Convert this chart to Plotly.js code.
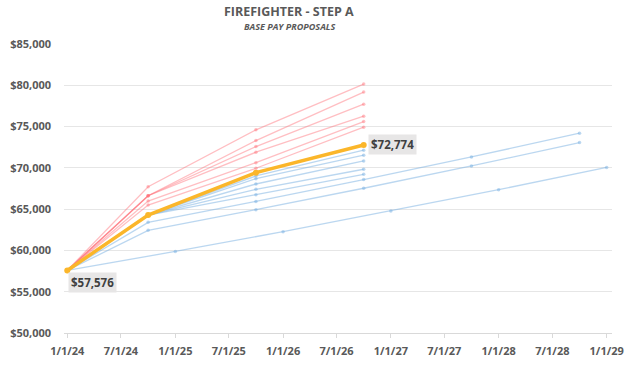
<!DOCTYPE html>
<html>
<head>
<meta charset="utf-8">
<script src="https://cdn.plot.ly/plotly-3.0.1.min.js"></script>
<style>html,body{margin:0;padding:0;background:#fff;}#chart{width:640px;height:374px;}</style>
</head>
<body>
<div id="chart"></div>
<script>
// ---- data ----
const shortDates = ['2024-01-01', '2024-10-01', '2025-10-01', '2026-10-01'];
const longDates = ['2024-01-01', '2024-10-01', '2025-10-01', '2026-10-01', '2027-10-01', '2028-10-01'];
const annualDates = ['2024-01-01', '2025-01-01', '2026-01-01', '2027-01-01', '2028-01-01', '2029-01-01'];

const redSeries = [
  [57576, 67719, 74600, 80146],
  [57576, 66626, 73301, 79175],
  [57576, 66626, 72573, 77718],
  [57576, 66626, 71893, 76262],
  [57576, 65983, 70631, 75607],
  [57576, 65498, 69952, 74927]
];
const blueShortSeries = [
  [57576, 64284, 69017, 72136],
  [57576, 64284, 68689, 71529],
  [57576, 64284, 68046, 70838],
  [57576, 64284, 67403, 69830],
  [57576, 64284, 66748, 69223]
];
const blueLongSeries = [
  [57576, 63400, 65940, 68580, 71320, 74200],
  [57576, 62430, 64930, 67530, 70230, 73060]
];
const blueAnnual = [57576, 59880, 62270, 64770, 67360, 70050];
const orangeSeries = [57576, 64284, 69418, 72774];

const labelStart = '$57,576';
const labelEnd = '$72,774';

// ---- styles ----
const redColor = 'rgba(255,110,120,0.45)';
const blueColor = 'rgba(120,175,225,0.5)';
const orangeColor = '#fbb62a';

const traces = [];
function addLine(x, y, color, width, msize) {
  traces.push({
    type: 'scatter', mode: 'lines+markers', x: x, y: y,
    line: {color: color, width: width},
    marker: {color: color, size: msize},
    hoverinfo: 'skip', showlegend: false
  });
}
blueLongSeries.forEach(s => addLine(longDates, s, blueColor, 1.3, 3.5));
addLine(annualDates, blueAnnual, blueColor, 1.3, 3.5);
blueShortSeries.forEach(s => addLine(shortDates, s, blueColor, 1.3, 3.5));
redSeries.forEach(s => addLine(shortDates, s, redColor, 1.3, 3.5));
addLine(shortDates, orangeSeries, orangeColor, 3.5, 6);

const fontFam = '"Open Sans", Arial, sans-serif';
const layout = {
  width: 640, height: 374,
  margin: {l: 64, r: 28, t: 44, b: 41},
  paper_bgcolor: '#fff', plot_bgcolor: '#fff',
  showlegend: false,
  font: {family: fontFam, color: '#595959'},
  xaxis: {
    type: 'date',
    range: ['2023-12-21', '2029-01-19'],
    tick0: '2024-01-01', dtick: 'M6',
    tickformat: '%-m/%-d/%y',
    showgrid: false, zeroline: false,
    showline: true, linecolor: '#d9d9d9', linewidth: 1,
    ticks: 'outside', ticklen: 4, tickcolor: '#d9d9d9',
    ticklabelstandoff: 4,
    tickfont: {family: fontFam, size: 11, color: '#595959', weight: 700}
  },
  yaxis: {
    range: [50000, 85000], dtick: 5000,
    tickprefix: '$', tickformat: ',d',
    showgrid: true, gridcolor: '#e6e6e6', gridwidth: 1,
    zeroline: false, showline: false,
    ticks: '', ticklabelstandoff: 12,
    tickfont: {family: fontFam, size: 11, color: '#595959', weight: 700}
  },
  annotations: [
    {xref: 'paper', yref: 'paper', x: 0.4106, y: 1, yshift: 32.5, xanchor: 'center', yanchor: 'middle',
     text: 'FIREFIGHTER - STEP A', showarrow: false,
     font: {family: fontFam, size: 12.5, color: '#595959', weight: 700}},
    {xref: 'paper', yref: 'paper', x: 0.4106, y: 1, yshift: 17.5, xanchor: 'center', yanchor: 'middle',
     text: '<i>BASE PAY PROPOSALS</i>', showarrow: false,
     font: {family: fontFam, size: 9, color: '#595959', weight: 700}},
    {x: shortDates[0], y: orangeSeries[0], xanchor: 'center', yanchor: 'middle', xshift: 25, yshift: -12,
     text: labelStart, showarrow: false, bgcolor: '#e7e6e6', borderpad: 2,
     font: {family: fontFam, size: 11.5, color: '#404040', weight: 700}},
    {x: shortDates[3], y: orangeSeries[3], xanchor: 'left', yanchor: 'middle', xshift: 4, yshift: 0,
     text: labelEnd, showarrow: false, bgcolor: '#e7e6e6', borderpad: 2,
     font: {family: fontFam, size: 11.5, color: '#404040', weight: 700}}
  ]
};
Plotly.newPlot('chart', traces, layout, {staticPlot: true, displayModeBar: false});
</script>
</body>
</html>
